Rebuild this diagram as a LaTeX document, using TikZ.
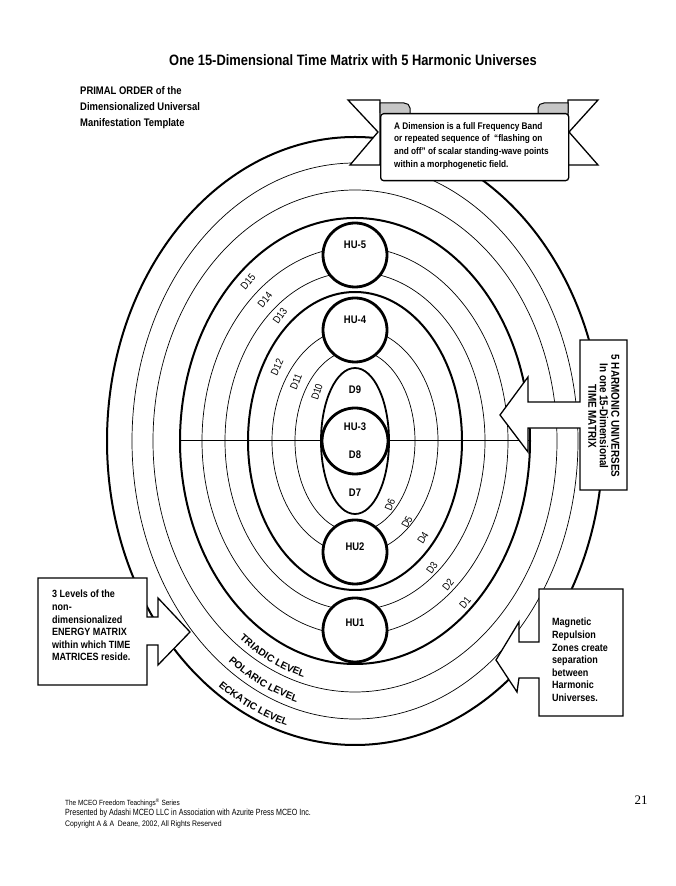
\documentclass[tikz,border=0pt]{standalone}
\usepackage{fontspec}
\setmainfont{Liberation Sans}
\newfontfamily\nar[FakeStretch=0.86]{Liberation Sans}
\newfontfamily\pgserif{Liberation Serif}
\usetikzlibrary{decorations.text}
\begin{document}
\begin{tikzpicture}[x=1pt,y=1pt,
  thickl/.style={line width=2pt},
  thinl/.style={line width=0.7pt},
  hucirc/.style={circle,draw,line width=2.8pt,fill=white,minimum size=64pt,inner sep=0pt},
  lbl/.style={font=\nar\bfseries\fontsize{11}{12}\selectfont},
  dl/.style={font=\nar\fontsize{10.5}{11}\selectfont},
  box/.style={draw,line width=1.3pt,fill=white},
  btxt/.style={font=\nar\bfseries\fontsize{10.5}{12.6}\selectfont,align=left,anchor=north west,inner sep=0pt}]
\useasboundingbox (0,0) rectangle (675,886);
\coordinate (C) at (355,445);
% ellipses
\draw[thickl] (C) ellipse[x radius=248,y radius=304];
\draw[thinl] (C) ellipse[x radius=223,y radius=278];
\draw[thinl] (C) ellipse[x radius=202,y radius=251];
\draw[thickl] (C) ellipse[x radius=175,y radius=223];
\draw[thinl] (C) ellipse[x radius=153,y radius=194];
\draw[thinl] (C) ellipse[x radius=130,y radius=169];
\draw[thickl] (C) ellipse[x radius=107,y radius=149];
\draw[thinl] (C) ellipse[x radius=83,y radius=113];
\draw[thinl] (C) ellipse[x radius=60,y radius=91];
\coordinate (hl) at (180,445);
\coordinate (hr) at (530,445);
\draw[line width=1pt] (hl) -- (hr);
\draw[line width=1.8pt,fill=white] (C) ellipse[x radius=34,y radius=73];
% HU circles
\node[hucirc] (hu5) at (355,631) {};
\node[hucirc] (hu4) at (355,556) {};
\node[hucirc,minimum size=66pt] (hu3) at (355,445) {};
\node[hucirc] (hu2) at (355,334) {};
\node[hucirc] (hu1) at (355,256) {};
\node[lbl] (t5) at (355,641) {HU-5};
\node[lbl] (t4) at (355,566) {HU-4};
\node[lbl] (t3) at (355,459) {HU-3};
\node[lbl] (t8) at (355,431) {D8};
\node[lbl] (t9) at (355,496) {D9};
\node[lbl] (t7) at (355,393) {D7};
\node[lbl] (t2) at (355,339) {HU2};
\node[lbl] (t1) at (355,263) {HU1};
% D labels
\node[dl,rotate=50,inner sep=0pt] (d15) at (248,604) {D15};
\node[dl,rotate=52,inner sep=0pt] (d14) at (265,586) {D14};
\node[dl,rotate=55,inner sep=0pt] (d13) at (280,570) {D13};
\node[dl,rotate=65,inner sep=0pt] (d12) at (277,519) {D12};
\node[dl,rotate=68,inner sep=0pt] (d11) at (296,504) {D11};
\node[dl,rotate=72,inner sep=0pt] (d10) at (317,494) {D10};
\node[dl,rotate=68,inner sep=0pt] (d6) at (390,381) {D6};
\node[dl,rotate=62,inner sep=0pt] (d5) at (407,364) {D5};
\node[dl,rotate=57,inner sep=0pt] (d4) at (423,348) {D4};
\node[dl,rotate=55,inner sep=0pt] (d3) at (432,318) {D3};
\node[dl,rotate=52,inner sep=0pt] (d2) at (448,301) {D2};
\node[dl,rotate=50,inner sep=0pt] (d1) at (465,283) {D1};
% level labels
\path[decorate,decoration={text along path,text align=center,text={|\bfseries\fontsize{10}{12}\selectfont|TRIADIC LEVEL}}]
  (C) ++(222:196 and 245) arc[start angle=222,end angle=268,x radius=196,y radius=245];
\path[decorate,decoration={text along path,text align=center,text={|\bfseries\fontsize{10}{12}\selectfont|POLARIC LEVEL}}]
  (C) ++(224:218 and 271) arc[start angle=224,end angle=266,x radius=218,y radius=271];
\path[decorate,decoration={text along path,text align=center,text={|\bfseries\fontsize{10}{12}\selectfont|ECKATIC LEVEL}}]
  (C) ++(226:242 and 297) arc[start angle=226,end angle=264,x radius=242,y radius=297];
% banner
\draw[line width=1.3pt,fill=white] (380,786) -- (348,786) -- (378,754) -- (350,721) -- (380,721) -- cycle;
\draw[line width=1.3pt,fill=white] (568,786) -- (598,786) -- (569,754) -- (598,721) -- (568,721) -- cycle;
\draw[line width=1pt,fill=gray!45] (380,773) -- (380,783) -- (404,783) to[out=0,in=90] (410,778) -- (410,773);
\draw[line width=1pt,fill=gray!45] (568,773) -- (568,783) -- (544,783) to[out=180,in=90] (538,778) -- (538,773);
\node[box,minimum width=188pt,minimum height=67pt,anchor=north west,rounded corners=3pt] (ban) at (380,773) {};
\node[btxt,font=\nar\bfseries\fontsize{9.6}{12.8}\selectfont] (bant) at (394,764) {A Dimension is a full Frequency Band\\or repeated sequence of \ “flashing on\\and off” of scalar standing-wave points\\within a morphogenetic field.};
% left callout
\draw[box] (38,308) -- (147,308) -- (147,269) -- (158,269) -- (158,288) -- (190,254) -- (158,221) -- (158,241) -- (147,241) -- (147,201) -- (38,201) -- cycle;
\node[btxt] (lt) at (52,296) {3 Levels of the\\non-\\dimensionalized\\ENERGY MATRIX\\within which TIME\\MATRICES reside.};
% right callout
\draw[box] (627,546) -- (580,546) -- (580,484) -- (528,484) -- (528,509) -- (500,471) -- (528,434) -- (528,458) -- (580,458) -- (580,396) -- (627,396) -- cycle;
\node[font=\nar\bfseries\fontsize{11.5}{11.5}\selectfont,align=center,rotate=-90] (rt) at (604,470) {5 HARMONIC UNIVERSES\\In one 15-Dimensional\\TIME MATRIX};
% magnetic callout
\draw[box] (539,297) -- (623,297) -- (623,170) -- (539,170) -- (539,208) -- (519,208) -- (517,194) -- (496,226) -- (519,264) -- (519,244) -- (539,244) -- cycle;
\node[btxt] (mt) at (552,268) {Magnetic\\Repulsion\\Zones create\\separation\\between\\Harmonic\\Universes.};
% texts
\node[font=\nar\bfseries\fontsize{15}{18}\selectfont] (title) at (353,826) {One 15-Dimensional Time Matrix with 5 Harmonic Universes};
\node[btxt,font=\nar\bfseries\fontsize{11}{16.3}\selectfont] (prim) at (80,800) {PRIMAL ORDER of the\\Dimensionalized Universal\\Manifestation Template};
\node[anchor=west,inner sep=0pt,font=\nar\fontsize{7.5}{8}\selectfont] (f1) at (65,83) {The MCEO Freedom Teachings\textsuperscript{\textregistered} Series};
\node[anchor=west,inner sep=0pt,font=\nar\fontsize{9}{9}\selectfont,xscale=0.92] (f2) at (65,73) {Presented by Adashi MCEO LLC in Association with Azurite Press MCEO Inc.};
\node[anchor=west,inner sep=0pt,font=\nar\fontsize{8}{8}\selectfont] (f3) at (65,62) {Copyright A \& A \ Deane, 2002, All Rights Reserved};
\node[font=\pgserif\fontsize{13}{14}\selectfont] (pg) at (641,86) {21};
\end{tikzpicture}
\end{document}
